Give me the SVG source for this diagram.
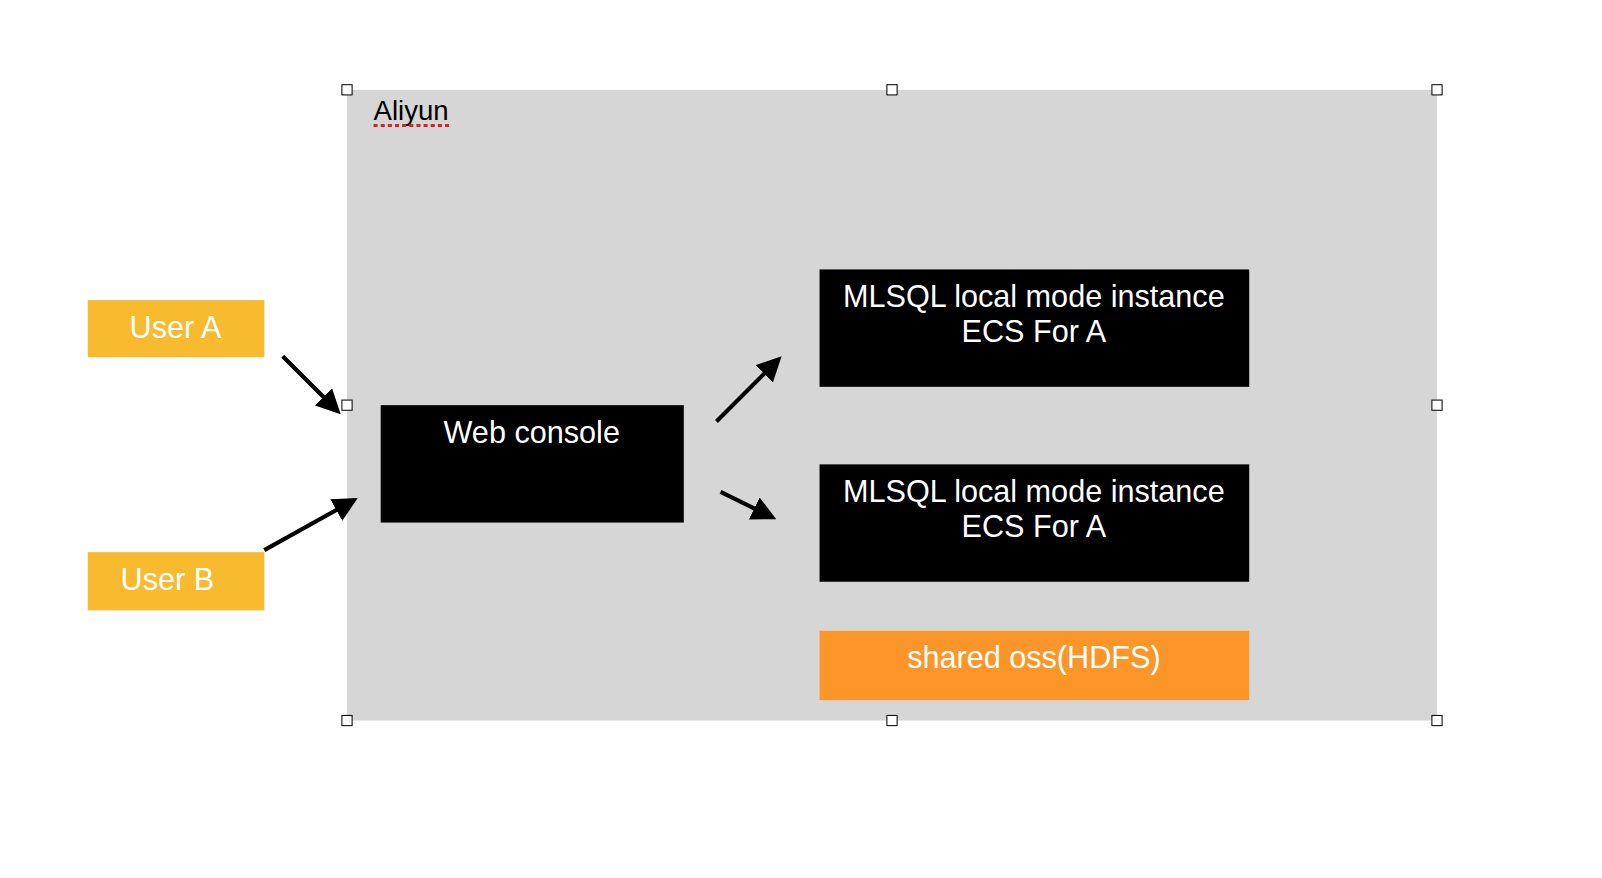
<svg xmlns="http://www.w3.org/2000/svg" width="1602" height="878" viewBox="0 0 1602 878">
<style>
.t{font-family:"Liberation Sans",Arial,sans-serif;font-size:30px;fill:#fff;text-anchor:middle}
.h{fill:#fff;stroke:#000;stroke-width:1}
.c{stroke:#000;stroke-width:4;fill:none;marker-end:url(#a)}
</style>
<defs><marker id="a" markerWidth="6" markerHeight="6" refX="5" refY="3" orient="auto" markerUnits="strokeWidth"><path d="M0,0L6,3L0,6z" fill="#000"/></marker></defs>
<rect width="1602" height="878" fill="#fff"/>
<g transform="scale(1.0206)">
<g id="aliyun">
<rect x="340" y="88" width="1068" height="618" fill="#d6d6d6"/>
<text x="366" y="118" style="font-family:'Liberation Sans',Arial,sans-serif;font-size:27px;fill:#000">Aliyun</text>
<line x1="366" y1="123" x2="440" y2="123" stroke="#e02020" stroke-width="3" stroke-dasharray="4,3"/>
<rect class="h" x="335" y="83" width="10" height="10"/><rect class="h" x="869" y="83" width="10" height="10"/><rect class="h" x="1403" y="83" width="10" height="10"/>
<rect class="h" x="335" y="392" width="10" height="10"/><rect class="h" x="1403" y="392" width="10" height="10"/>
<rect class="h" x="335" y="701" width="10" height="10"/><rect class="h" x="869" y="701" width="10" height="10"/><rect class="h" x="1403" y="701" width="10" height="10"/>
</g>
<g id="userA"><rect x="86" y="294" width="173" height="56" fill="#f8ba2e"/><text class="t" x="172" y="331">User A</text></g>
<g id="userB"><rect x="86" y="541" width="173" height="57" fill="#f8ba2e"/><text class="t" x="164" y="578">User B</text></g>
<g id="web"><rect x="373" y="397" width="297" height="115" fill="#000"/><text class="t" x="521" y="434">Web console</text></g>
<g id="ml1"><rect x="803" y="264" width="421" height="115" fill="#000"/><text class="t" x="1013" y="301">MLSQL local mode instance</text><text class="t" x="1013" y="335">ECS For A</text></g>
<g id="ml2"><rect x="803" y="455" width="421" height="115" fill="#000"/><text class="t" x="1013" y="492">MLSQL local mode instance</text><text class="t" x="1013" y="526">ECS For A</text></g>
<g id="oss"><rect x="803" y="618" width="421" height="68" fill="#fc9629"/><text class="t" x="1013" y="655">shared oss(HDFS)</text></g>
<g id="connectors">
<line class="c" x1="277" y1="349" x2="331" y2="403"/>
<line class="c" x1="259" y1="539" x2="347" y2="490"/>
<line class="c" x1="702" y1="413" x2="763" y2="352"/>
<line class="c" x1="706" y1="482" x2="757" y2="507"/>
</g>
</g>
</svg>
